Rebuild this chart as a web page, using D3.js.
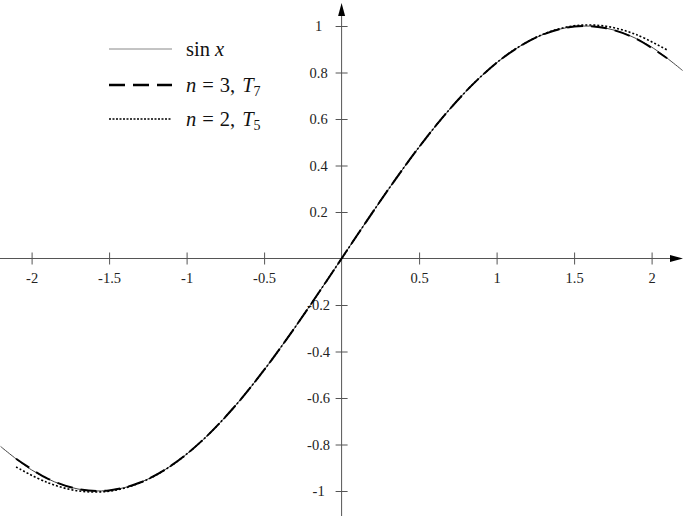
<!DOCTYPE html>
<html><head><meta charset="utf-8">
<script src="https://cdn.jsdelivr.net/npm/d3@7"></script>
<style>body{margin:0;background:#fff}svg{display:block}</style>
</head><body>
<script>
// x samples and values
const sinX = [-2.2,-2.0,-1.8,-1.6,-1.4,-1.2,-1.0,-0.8,-0.6,-0.4,-0.2,0,0.2,0.4,0.6,0.8,1.0,1.2,1.4,1.6,1.8,2.0,2.2];
const sinY = [-0.8085,-0.9093,-0.9738,-0.9996,-0.9854,-0.9320,-0.8415,-0.7174,-0.5646,-0.3894,-0.1987,0,0.1987,0.3894,0.5646,0.7174,0.8415,0.9320,0.9854,0.9996,0.9738,0.9093,0.8085];
const tX = [-2.1,-1.9,-1.7,-1.5,-1.3,-1.1,-0.9,-0.7,-0.5,-0.3,-0.1,0.1,0.3,0.5,0.7,0.9,1.1,1.3,1.5,1.7,1.9,2.1];
const t7Y = [-0.8611,-0.9454,-0.9913,-0.9974,-0.9635,-0.8912,-0.7833,-0.6442,-0.4794,-0.2955,-0.0998,0.0998,0.2955,0.4794,0.6442,0.7833,0.8912,0.9635,0.9974,0.9913,0.9454,0.8611];
const t5Y = [-0.8968,-0.9632,-0.9995,-1.0008,-0.9648,-0.8916,-0.7834,-0.6442,-0.4794,-0.2955,-0.0998,0.0998,0.2955,0.4794,0.6442,0.7834,0.8916,0.9648,1.0008,0.9995,0.9632,0.8968];
const xTicks = [-2,-1.5,-1,-0.5,0.5,1,1.5,2];
const yTicks = [-1,-0.8,-0.6,-0.4,-0.2,0.2,0.4,0.6,0.8,1];
const xTickLabels = ["-2","-1.5","-1","-0.5","0.5","1","1.5","2"];
const yTickLabels = ["-1","-0.8","-0.6","-0.4","-0.2","0.2","0.4","0.6","0.8","1"];

const W = 685, H = 516;
const svg = d3.select("body").append("svg").attr("width", W).attr("height", H);
const x = d3.scaleLinear().domain([-2.2, 2.2]).range([0.6, 682.6]);
const y = d3.scaleLinear().domain([-1, 1]).range([491, 26]);
const axisCol = "#555";
const fontF = "'Liberation Serif','Times New Roman',serif";

// axes lines
const x0 = x(0), y0 = y(0);
svg.append("line").attr("x1", 0).attr("x2", 672).attr("y1", y0).attr("y2", y0)
  .attr("stroke", axisCol).attr("stroke-width", 1);
svg.append("path").attr("d", `M683,${y0} L670,${y0-3.5} L670,${y0+3.5} Z`).attr("fill", "#000");
svg.append("line").attr("x1", x0).attr("x2", x0).attr("y1", H).attr("y2", 14)
  .attr("stroke", axisCol).attr("stroke-width", 1);
svg.append("path").attr("d", `M${x0},3 L${x0-3.5},16 L${x0+3.5},16 Z`).attr("fill", "#000");

// x axis ticks
const xa = svg.append("g").attr("transform", `translate(0,${y0})`)
  .call(d3.axisBottom(x).tickValues(xTicks).tickSizeInner(6).tickSizeOuter(0).tickPadding(8)
    .tickFormat((d, i) => xTickLabels[i]));
xa.select(".domain").remove();
xa.selectAll(".tick line").attr("y1", -6).attr("stroke", axisCol);
xa.selectAll(".tick text").attr("font-family", fontF).attr("font-size", 14.5).attr("fill", "#222").attr("dy", "0.75em");

// y axis ticks
const ya = svg.append("g").attr("transform", `translate(${x0},0)`)
  .call(d3.axisLeft(y).tickValues(yTicks).tickSizeInner(6).tickSizeOuter(0).tickPadding(8)
    .tickFormat((d, i) => yTickLabels[i]));
ya.select(".domain").remove();
ya.selectAll(".tick line").attr("x2", 6).attr("x1", -6).attr("stroke", axisCol);
ya.selectAll(".tick text").attr("font-family", fontF).attr("font-size", 14.5).attr("fill", "#222")
  .attr("text-anchor", "middle").attr("x", -23);

// curves
const line = d3.line().x(d => x(d[0])).y(d => y(d[1])).curve(d3.curveCatmullRom);
svg.append("path").datum(sinX.map((v, i) => [v, sinY[i]])).attr("d", line)
  .attr("fill", "none").attr("stroke", "#444").attr("stroke-width", 1);
svg.append("path").datum(tX.map((v, i) => [v, t5Y[i]])).attr("d", line)
  .attr("fill", "none").attr("stroke", "#000").attr("stroke-width", 1.6).attr("stroke-dasharray", "2,2");
svg.append("path").datum(tX.map((v, i) => [v, t7Y[i]])).attr("d", line)
  .attr("fill", "none").attr("stroke", "#000").attr("stroke-width", 2).attr("stroke-dasharray", "16,8");

// legend
const lg = svg.append("g");
const rows = [
  {y: 49, stroke: "#888", w: 1, dash: null},
  {y: 85, stroke: "#000", w: 2.5, dash: "16,8"},
  {y: 119, stroke: "#000", w: 1.6, dash: "2,1.5"}
];
rows.forEach(r => {
  lg.append("line").attr("x1", 109).attr("x2", 172).attr("y1", r.y).attr("y2", r.y)
    .attr("stroke", r.stroke).attr("stroke-width", r.w).attr("stroke-dasharray", r.dash);
});
const fs = 20.5;
const t1 = lg.append("text").attr("x", 186).attr("y", 49).attr("dy", "0.35em")
  .attr("font-family", fontF).attr("font-size", fs).attr("fill", "#111");
t1.append("tspan").text("sin");
t1.append("tspan").attr("dx", 5).attr("font-style", "italic").text("x");
function nrow(yy, nval, sub) {
  const t = lg.append("text").attr("x", 186).attr("y", yy).attr("dy", "0.35em")
    .attr("font-family", fontF).attr("font-size", fs).attr("fill", "#111");
  t.append("tspan").attr("font-style", "italic").text("n");
  t.append("tspan").attr("dx", 6).text("=");
  t.append("tspan").attr("dx", 6).text(nval + ",");
  t.append("tspan").attr("dx", 7).attr("font-style", "italic").text("T");
  t.append("tspan").attr("font-size", 14).attr("dy", 4).text(sub);
}
nrow(85, "3", "7");
nrow(119, "2", "5");
</script>
</body></html>
